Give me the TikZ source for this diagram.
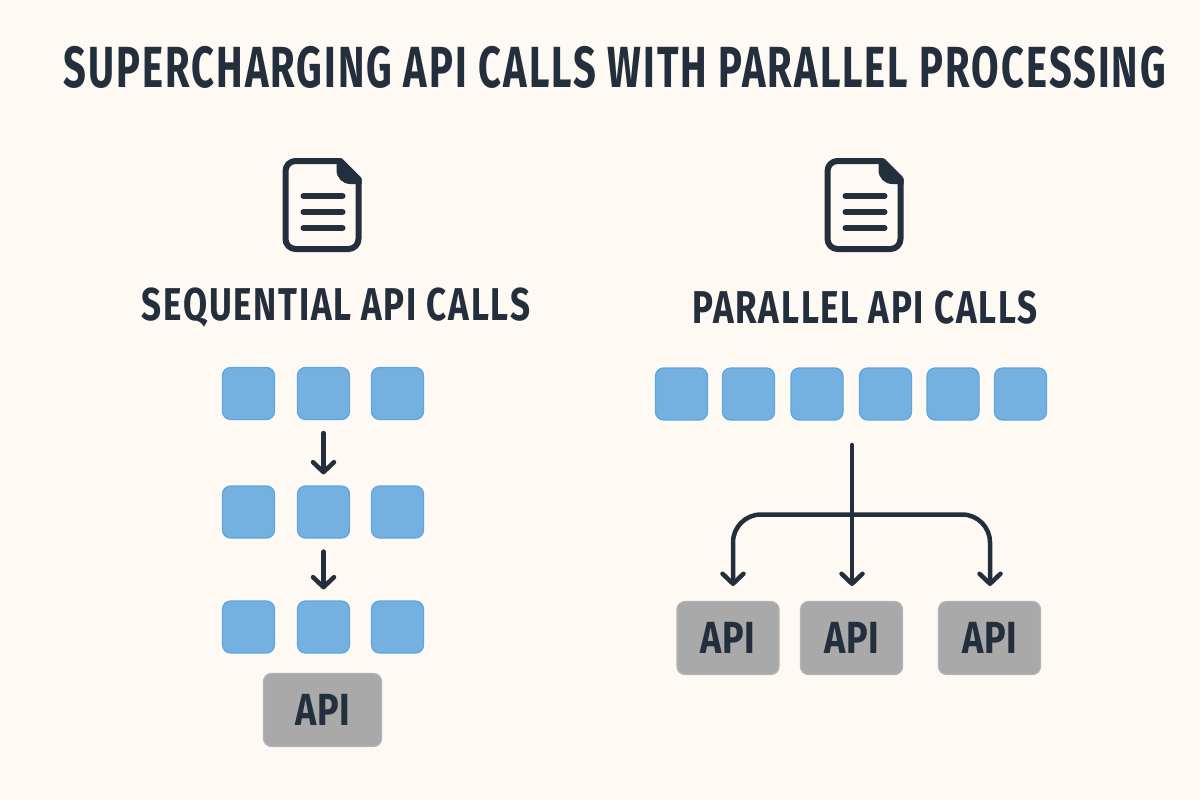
\documentclass[tikz,border=0pt]{standalone}
\usepackage{fontspec}
\usetikzlibrary{arrows.meta}
\setmainfont{Liberation Sans}
\newfontfamily\headfont[FakeStretch=0.687,LetterSpace=3.5]{Fira Sans Bold}
\newfontfamily\subfont[FakeStretch=0.76,LetterSpace=3.8]{Fira Sans Bold}
\newfontfamily\apifont[FakeStretch=0.8,LetterSpace=1]{Fira Sans Bold}
\definecolor{bgc}{HTML}{FFF9F3}
\definecolor{inkc}{HTML}{232F3C}
\definecolor{bluef}{HTML}{74B1E0}
\definecolor{blueb}{HTML}{5AA7E2}
\definecolor{grayf}{HTML}{A9A9A9}
\definecolor{grayb}{HTML}{B4B4B4}
\tikzset{
  x=1pt,y=-1pt,
  title/.style={font=\headfont\fontsize{58}{58}\selectfont,text=inkc,inner sep=0pt,anchor=center},
  subtitle/.style={font=\subfont\fontsize{46}{46}\selectfont,text=inkc,inner sep=0pt,anchor=center},
  sq/.style={draw=blueb,line width=1.2pt,fill=bluef,rounded corners=8pt,minimum width=52pt,minimum height=52pt,inner sep=0pt},
  apibox/.style={draw=grayb,line width=1.2pt,fill=grayf,rounded corners=8pt,minimum width=102pt,minimum height=73pt,inner sep=0pt,font=\apifont\fontsize{45}{45}\selectfont,text=inkc},
  flow/.style={draw=inkc,line width=4.5pt,line cap=round,-{Straight Barb[length=10pt,width=21pt,line width=4.5pt,round]}},
  branch/.style={flow,rounded corners=28pt},
  ink/.style={draw=inkc,line width=6pt,line cap=round},
}
\newcommand{\docicon}[2]{%
  \begin{scope}[shift={(#1,#2)}]
    \draw[draw=inkc,line width=6pt,line join=round,fill=none]
      (10,3) -- (55,3) -- (73,21) -- (73,81) arc (0:90:10) -- (10,91) arc (90:180:10) -- (0,13) arc (180:270:10) -- cycle;
    \fill[inkc] (51,2) -- (57,2) -- (76,21) -- (76,26) -- (65,26) .. controls (57,26) and (51,20) .. (51,12) -- cycle;
    \draw[ink] (18,38) -- (57,38);
    \draw[ink] (18,54) -- (57,54);
    \draw[ink] (18,70) -- (57,70);
  \end{scope}}
\begin{document}
\begin{tikzpicture}
\path[fill=bgc] (0,0) rectangle (1200,800);
\useasboundingbox (0,0) rectangle (1200,800);
\node[title] (ttl) at (615,67) {SUPERCHARGING API CALLS WITH PARALLEL PROCESSING};
\docicon{285.5}{158}
\docicon{827.5}{158}
\node[subtitle] (seqt) at (336,308) {SEQUENTIAL API CALLS};
\node[subtitle] (part) at (865,308) {PARALLEL API CALLS};
\node[sq] (a1) at (248.5,393.5) {};
\node[sq] (a2) at (323.5,393.5) {};
\node[sq] (a3) at (397.5,393.5) {};
\node[sq] (b1) at (248.5,512) {};
\node[sq] (b2) at (323.5,512) {};
\node[sq] (b3) at (397.5,512) {};
\node[sq] (c1) at (248.5,627) {};
\node[sq] (c2) at (323.5,627) {};
\node[sq] (c3) at (397.5,627) {};
\node[apibox,minimum width=118pt] (api0) at (322.5,710) {API};
\draw[flow,shorten <=13pt,shorten >=11pt] (a2) -- (b2);
\draw[flow,shorten <=13pt,shorten >=11pt] (b2) -- (c2);
\node[sq] (p1) at (681.5,394) {};
\node[sq] (p2) at (748.5,394) {};
\node[sq] (p3) at (817,394) {};
\node[sq] (p4) at (885.5,394) {};
\node[sq] (p5) at (953,394) {};
\node[sq] (p6) at (1020.5,394) {};
\node[apibox] (api1) at (728,638) {\raisebox{-1pt}{API}};
\node[apibox] (api2) at (851.5,638) {\raisebox{-1pt}{API}};
\node[apibox] (api3) at (989.5,638) {\raisebox{-1pt}{API}};
\coordinate (trunk) at (852,445);
\coordinate (fork) at (852,514.5);
\coordinate (tipl) at (733,586);
\coordinate (tipr) at (990,586);
\coordinate (tipm) at (852,586);
\draw[flow] (trunk) -- (tipm);
\draw[branch] (fork) -| (tipl);
\draw[branch] (fork) -| (tipr);
\end{tikzpicture}
\end{document}
